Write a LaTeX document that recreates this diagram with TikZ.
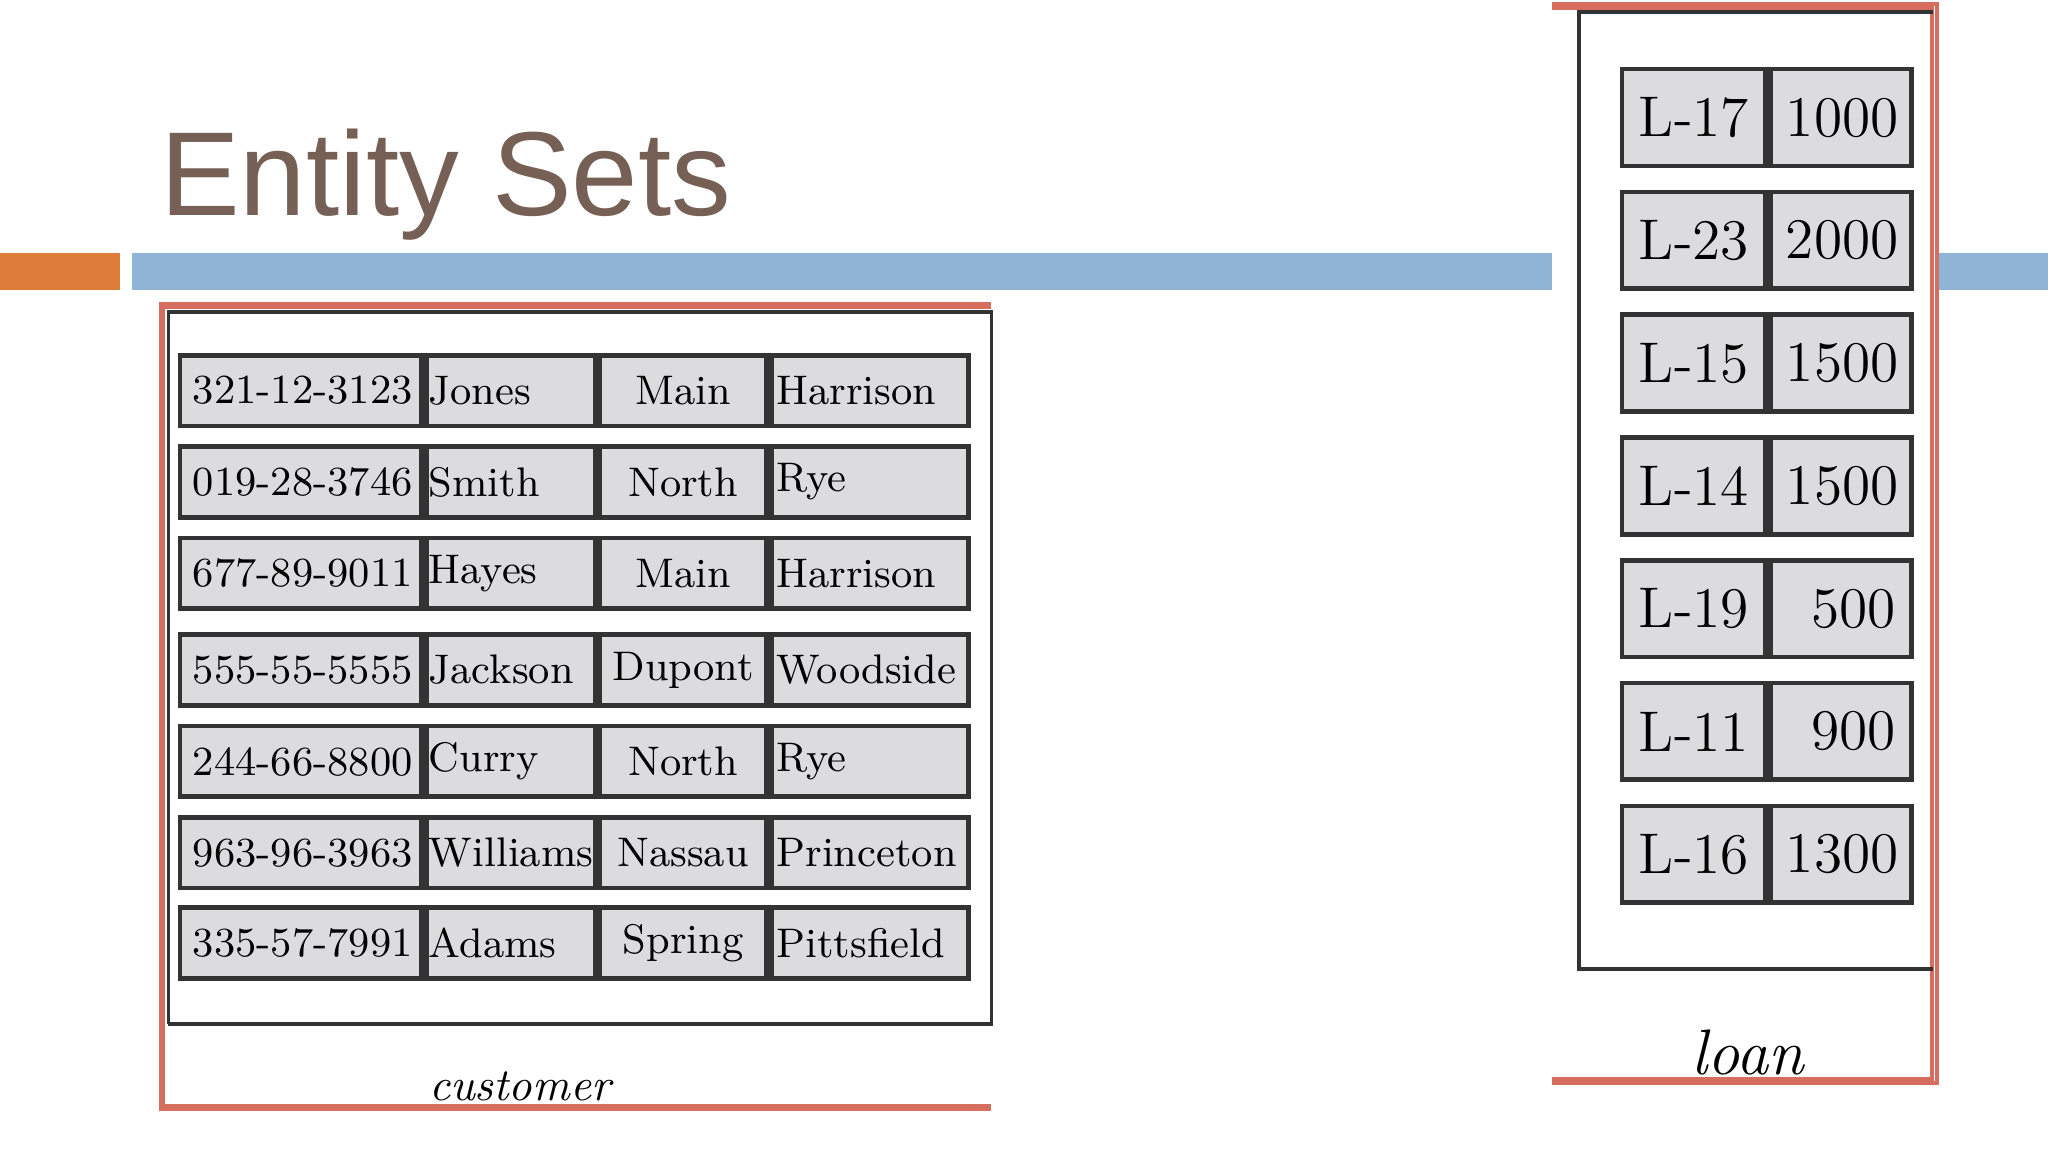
\documentclass[tikz,border=0pt]{standalone}
\usepackage{fontspec}
\newfontfamily\titlefont{Liberation Sans}
\definecolor{titlebrown}{RGB}{118,96,86}
\definecolor{barorange}{RGB}{222,124,58}
\definecolor{barblue}{RGB}{143,180,213}
\definecolor{framered}{RGB}{214,110,95}
\definecolor{cellgray}{RGB}{220,220,222}
\tikzset{
  cell/.style={draw=black!80, line width=1pt, fill=cellgray, minimum height=0.54cm, inner ysep=0pt, inner xsep=0.1cm, anchor=west, font=\fontsize{9}{10}\selectfont},
  loancell/.style={draw=black!80, line width=1pt, fill=cellgray, minimum height=0.74cm, inner ysep=0pt, inner xsep=0.13cm, text width=0.84cm, anchor=west, font=\fontsize{12.5}{14}\selectfont},
  redline/.style={draw=framered, line width=0.8pt},
}

\begin{document}
\begin{tikzpicture}[x=0.01cm, y=-0.01cm]
  \useasboundingbox (0, 0) rectangle (1568, 882);
  % title and bars
  \node[anchor=base west, inner sep=0pt, text=titlebrown, font=\titlefont\fontsize{26}{30}\selectfont] (title) at (122, 165) {Entity Sets};
  \fill[barorange] (0, 194) rectangle (92, 222);
  \fill[barblue] (101, 194) rectangle (1188, 222);
  \fill[barblue] (1482, 194) rectangle (1568, 222);

  % customer panel
  \draw[redline, line width=1.5pt] (759, 234) -- (124, 234) -- (124, 848) -- (759, 848);
  \draw[black!80, line width=0.8pt] (129, 784) -- (129, 239) -- (759, 239) -- (759, 784) -- (129, 784);
  \node[font=\itshape\fontsize{10}{12}\selectfont] (custlabel) at (398, 832) {customer};
  \foreach \id/\nm/\st/\ct [count=\r from 0] in {321-12-3123/Jones/Main/Harrison, 019-28-3746/Smith/North/Rye, 677-89-9011/Hayes/Main/Harrison, 555-55-5555/Jackson/Dupont/Woodside, 244-66-8800/Curry/North/Rye, 963-96-3963/Williams/Nassau/Princeton, 335-57-7991/Adams/Spring/Pittsfield} {
    \pgfmathsetmacro{\yy}{299+\r*70+(\r>2)*4-(\r>5)*1}
    \node[cell, text width=1.65cm, align=left] (id\r) at (136, \yy) {\mbox{\id}};
    \node[cell, text width=1.25cm, align=left, inner xsep=0.02cm] (nm\r) at (id\r.east) {\mbox{\nm}};
    \node[cell, text width=1.08cm, align=center] (st\r) at (nm\r.east) {\mbox{\st}};
    \node[cell, text width=1.43cm, align=left, inner xsep=0.04cm] (ct\r) at (st\r.east) {\mbox{\ct}};
  }

  % loan panel
  \draw[redline] (1188, 3) -- (1483, 3) -- (1483, 829) -- (1188, 829);
  \draw[redline] (1188, 6) -- (1479, 6) -- (1479, 826) -- (1188, 826);
  \draw[black!80, line width=0.8pt] (1480, 9) -- (1209, 9) -- (1209, 742) -- (1480, 742);
  \node[font=\itshape\fontsize{14}{16}\selectfont] (loanlabel) at (1338, 806) {loan};
  \foreach \ln/\amt [count=\r from 0] in {L-17/1000, L-23/2000, L-15/1500, L-14/1500, L-19/500, L-11/900, L-16/1300} {
    \node[loancell, align=left] (ln\r) at (1240, 90+\r*94) {\mbox{\ln}};
    \node[loancell, align=right, inner xsep=0.12cm] (amt\r) at (ln\r.east) {\mbox{\amt}};
  }
\end{tikzpicture}
\end{document}
